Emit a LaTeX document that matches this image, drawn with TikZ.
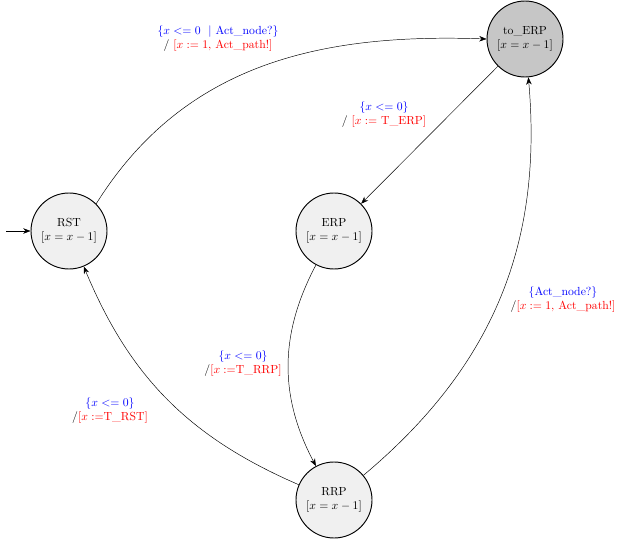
\documentclass[tikz,border=0pt]{standalone}
\usetikzlibrary{arrows.meta}
\begin{document}
\begin{tikzpicture}[x=0.03cm,y=-0.03cm,
  st/.style={circle,draw,thick,minimum size=2.28cm,inner sep=0pt,align=center,fill=gray!12},
  tr/.style={-{Stealth[length=2.2mm]},thin},
  lab/.style={align=center,inner sep=0pt}]
\useasboundingbox (0,0) rectangle (621,539);
\node[st] (rst) at (69,231) {RST\\$[x=x-1]$};
\node[st,fill=gray!45] (to) at (525,39) {to\_ERP\\$[x=x-1]$};
\node[st] (erp) at (334,231) {ERP\\$[x=x-1]$};
\node[st] (rrp) at (334,500) {RRP\\$[x=x-1]$};
\coordinate (init) at (6,231);
\draw[tr] (init) -- (rst);
\draw[tr] (rst.north east) to[out=58,in=178] (to.west);
\draw[tr] (to) -- (erp);
\draw[tr] (erp) to[bend right=28] (rrp);
\draw[tr] (rrp) to[bend left=22] (rst);
\draw[tr] (rrp) to[out=40,in=-85] (to);
\node[lab] (l1) at (218,39) {\textcolor{blue}{$\{x<=0$ \ $|$ Act\_node?$\}$}\\/ \textcolor{red}{[$x:=1$, Act\_path!]}};
\node[lab] (l2) at (384,115) {\textcolor{blue}{$\{x<=0\}$}\\/ \textcolor{red}{[$x:=$ T\_ERP]}};
\node[lab] (l3) at (243,364) {\textcolor{blue}{$\{x<=0\}$}\\/\textcolor{red}{[$x:=$T\_RRP]}};
\node[lab] (l4) at (110,411) {\textcolor{blue}{$\{x<=0\}$}\\/\textcolor{red}{[$x:=$T\_RST]}};
\node[lab] (l5) at (563,300) {\textcolor{blue}{$\{$Act\_node?$\}$}\\/\textcolor{red}{[$x:=1$, Act\_path!]}};
\end{tikzpicture}
\end{document}
